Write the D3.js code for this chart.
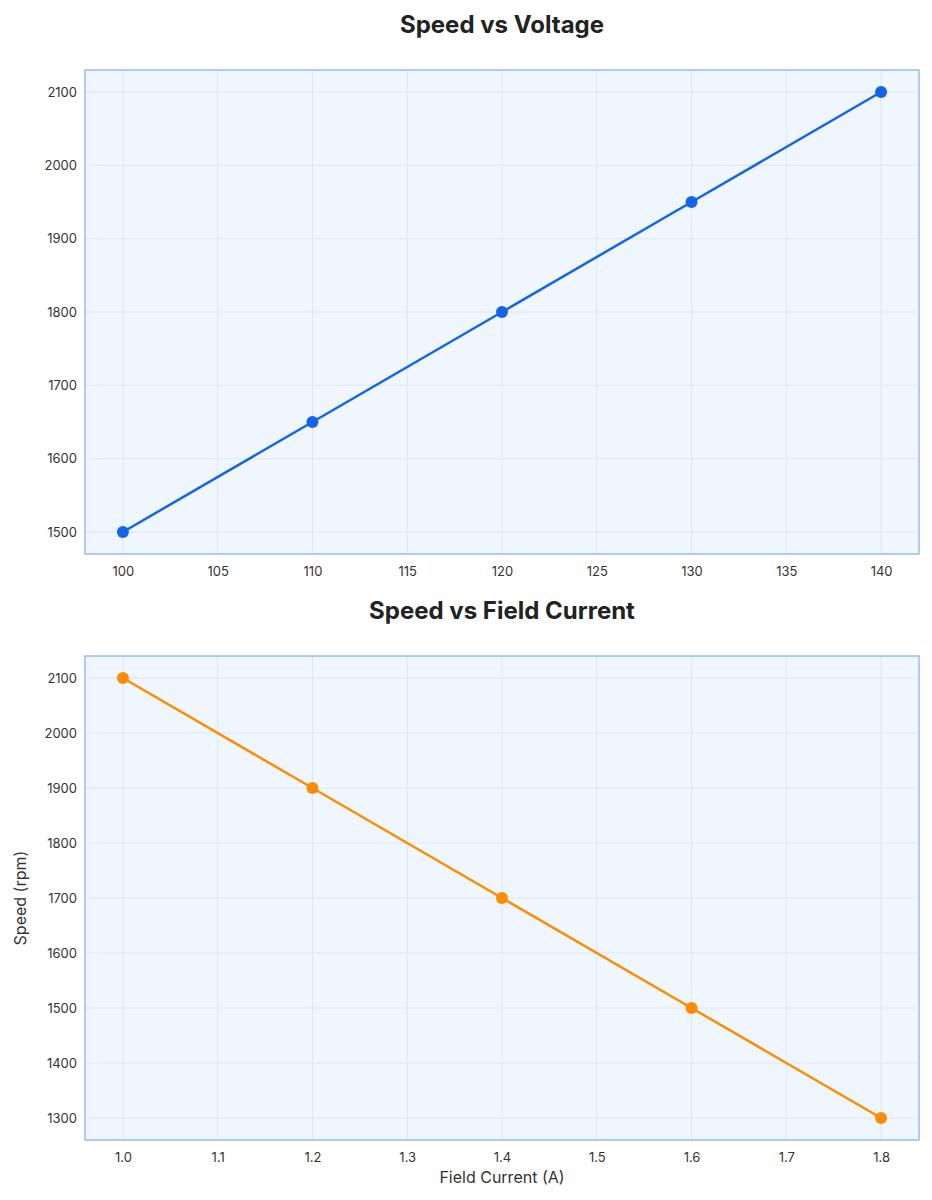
<!DOCTYPE html>
<html><head><meta charset="utf-8">
<script src="https://cdn.jsdelivr.net/npm/d3@7"></script>
<style>body{margin:0;background:#fff;} svg{display:block;font-family:"Inter","Lato",sans-serif;}</style>
</head><body>
<script>
const voltage = [100, 110, 120, 130, 140];
const speedVoltage = [1500, 1650, 1800, 1950, 2100];
const fieldCurrent = [1.0, 1.2, 1.4, 1.6, 1.8];
const speedField = [2100, 1900, 1700, 1500, 1300];
const voltageTicks = [100, 105, 110, 115, 120, 125, 130, 135, 140];
const speedTicks1 = [1500, 1600, 1700, 1800, 1900, 2000, 2100];
const fieldTicks = [1.0, 1.1, 1.2, 1.3, 1.4, 1.5, 1.6, 1.7, 1.8];
const speedTicks2 = [1300, 1400, 1500, 1600, 1700, 1800, 1900, 2000, 2100];

const W = 932, H = 1200;
const svg = d3.select("body").append("svg").attr("width", W).attr("height", H);

function panel(cfg) {
  const {top, bottom, left, right, xDom, yDom, xs, ys, xTicks, yTicks, xFmt, color, title, titleY, xLabel, yLabel} = cfg;
  const x = d3.scaleLinear().domain(xDom).range([left, right]);
  const y = d3.scaleLinear().domain(yDom).range([bottom, top]);
  const g = svg.append("g");
  g.append("rect").attr("x", left).attr("y", top).attr("width", right - left).attr("height", bottom - top)
    .attr("fill", "#f0f6fe");
  g.append("g").selectAll("line").data(xTicks).join("line")
    .attr("x1", d => x(d)).attr("x2", d => x(d)).attr("y1", top).attr("y2", bottom)
    .attr("stroke", "#dbe6f6").attr("stroke-width", 1);
  g.append("g").selectAll("line").data(yTicks).join("line")
    .attr("y1", d => y(d)).attr("y2", d => y(d)).attr("x1", left).attr("x2", right)
    .attr("stroke", "#dbe6f6").attr("stroke-width", 1);
  g.append("rect").attr("x", left).attr("y", top).attr("width", right - left).attr("height", bottom - top)
    .attr("fill", "none").attr("stroke", "#96bbf2").attr("stroke-width", 1.5);
  const xa = g.append("g").attr("transform", `translate(0,${bottom})`)
    .call(d3.axisBottom(x).tickValues(xTicks).tickFormat(xFmt).tickSize(0).tickPadding(13));
  const ya = g.append("g").attr("transform", `translate(${left},0)`)
    .call(d3.axisLeft(y).tickValues(yTicks).tickFormat(d3.format("d")).tickSize(0).tickPadding(8));
  [xa, ya].forEach(a => {
    a.select(".domain").remove();
    a.selectAll("text").attr("fill", "#333").style("font-size", "13px").style("font-family", "Inter, Lato, sans-serif");
  });
  const pts = xs.map((v, i) => [v, ys[i]]);
  g.append("path").datum(pts)
    .attr("d", d3.line().x(d => x(d[0])).y(d => y(d[1])))
    .attr("fill", "none").attr("stroke", color).attr("stroke-width", 2.5);
  g.append("g").selectAll("circle").data(pts).join("circle")
    .attr("cx", d => x(d[0])).attr("cy", d => y(d[1])).attr("r", 6).attr("fill", color);
  svg.append("text").attr("x", (left + right) / 2).attr("y", titleY).attr("text-anchor", "middle")
    .attr("font-size", "24px").attr("font-weight", "bold").attr("fill", "#222").text(title);
  if (xLabel) svg.append("text").attr("x", (left + right) / 2).attr("y", bottom + 43).attr("text-anchor", "middle")
    .attr("font-size", "16px").attr("fill", "#333").text(xLabel);
  if (yLabel) svg.append("text").attr("transform", `translate(26,${(top + bottom) / 2}) rotate(-90)`)
    .attr("text-anchor", "middle").attr("font-size", "16px").attr("fill", "#333").text(yLabel);
}

panel({top: 70, bottom: 554, left: 85, right: 919, xDom: [98, 142], yDom: [1470, 2130],
  xs: voltage, ys: speedVoltage, xTicks: voltageTicks, yTicks: speedTicks1, xFmt: d3.format("d"),
  color: "#1464e8", title: "Speed vs Voltage", titleY: 33});
panel({top: 656, bottom: 1140, left: 85, right: 919, xDom: [0.96, 1.84], yDom: [1260, 2140],
  xs: fieldCurrent, ys: speedField, xTicks: fieldTicks, yTicks: speedTicks2, xFmt: d3.format(".1f"),
  color: "#ff8c00", title: "Speed vs Field Current", titleY: 619, xLabel: "Field Current (A)", yLabel: "Speed (rpm)"});
</script>
</body></html>
